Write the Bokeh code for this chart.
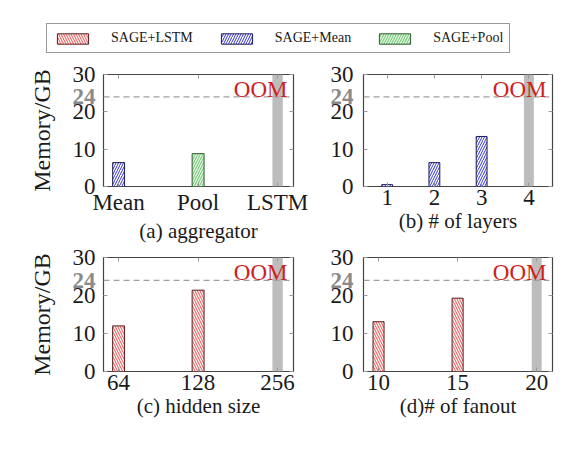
from bokeh.plotting import figure
from bokeh.models import (Range1d, FixedTicker, LinearAxis, Span, Label, Legend, LegendItem,
                          CustomJSTickFormatter)
from bokeh.layouts import column, row
from bokeh.embed import file_html
from bokeh.resources import INLINE

FONT = "Liberation Serif"

# ---- data (GB of GPU memory) ----
GPU_LIMIT = 24
Y_MAX = 30
y_ticks = [0, 10, 20, 30]

# (a) aggregator
agg_cats = ["Mean", "Pool", "LSTM"]
agg_mean_cat, agg_mean_mem = ["Mean"], [6.4]
agg_pool_cat, agg_pool_mem = ["Pool"], [8.8]
agg_oom_cat = ["LSTM"]

# (b) # of layers (SAGE+Mean)
layers = [1, 2, 3, 4]
layers_run = [1, 2, 3]
layers_mean = [0.5, 6.4, 13.4]
layers_oom = [4]

# (c) hidden size (SAGE+LSTM)
hidden_cats = ["64", "128", "256"]
hidden_run = ["64", "128"]
hidden_lstm = [12.0, 21.4]
hidden_oom = ["256"]

# (d) fanout (SAGE+LSTM)
fanout = [10, 15, 20]
fanout_run = [10, 15]
fanout_lstm = [13.1, 19.3]
fanout_oom = [20]

LSTM_STYLE = dict(fill_color="#fff4f4", hatch_pattern="left_diagonal_line",
                  hatch_color="#e05555", hatch_scale=5, hatch_weight=1,
                  line_color="#5a1c1c", line_width=1)
MEAN_STYLE = dict(fill_color="white", hatch_pattern="right_diagonal_line",
                  hatch_color="#3434c8", hatch_scale=5, hatch_weight=1,
                  line_color="#1c1c5a", line_width=1)
POOL_STYLE = dict(fill_color="#e2f7e2", hatch_pattern="right_diagonal_line",
                  hatch_color="#66c266", hatch_scale=5, hatch_weight=1,
                  line_color="#2e582e", line_width=1)
OOM_STYLE = dict(fill_color="#bdbdbd", line_color=None)


def make_panel(ticks, labels, xr, title, ylabel, w, h, bl, br, bt, bb, ystand=8):
    p = figure(width=w, height=h, x_range=Range1d(*xr), y_range=Range1d(0, Y_MAX),
               output_backend="svg", toolbar_location=None,
               min_border_left=bl, min_border_right=br,
               min_border_top=bt, min_border_bottom=bb)
    p.grid.visible = False
    p.outline_line_color = "#444444"
    p.outline_line_width = 1.2

    xax = p.below[0]
    yax = p.left[0]
    xax.ticker = FixedTicker(ticks=ticks)
    xax.major_label_overrides = {t: l for t, l in zip(ticks, labels)}
    yax.ticker = FixedTicker(ticks=y_ticks)
    xax.axis_label = title

    # grey bold memory limit label, pulled back over the main tick labels
    lim_ax = LinearAxis(ticker=FixedTicker(ticks=[GPU_LIMIT]))
    p.add_layout(lim_ax, "left")
    if ylabel:
        lim_ax.axis_label = ylabel

    # mirrored ticks on top / right, no labels
    blank = CustomJSTickFormatter(code="return ''")
    top = LinearAxis(ticker=FixedTicker(ticks=ticks), formatter=blank)
    right = LinearAxis(ticker=FixedTicker(ticks=y_ticks), formatter=blank)
    p.add_layout(top, "above")
    p.add_layout(right, "right")

    for ax in (xax, yax, lim_ax, top, right):
        ax.axis_line_color = None
        ax.major_tick_in = 4
        ax.major_tick_out = 0
        ax.major_tick_line_color = "#999999"
        ax.minor_tick_line_color = None
        ax.major_label_text_font = FONT
        ax.major_label_text_font_size = "23px"
        ax.major_label_text_color = "#1a1a1a"
        ax.axis_label_text_font = FONT
        ax.axis_label_text_font_style = "normal"
        ax.axis_label_text_color = "#1a1a1a"
    for ax in (top, right):
        ax.major_label_standoff = 0
    xax.major_label_standoff = 3
    xax.axis_label_standoff = 1
    xax.axis_label_text_font_size = "21px"
    yax.major_label_standoff = ystand
    lim_ax.major_tick_line_color = None
    lim_ax.major_label_text_font_style = "bold"
    lim_ax.major_label_text_color = "#8a8a8a"
    lim_ax.major_label_standoff = -26
    lim_ax.axis_label_standoff = 15
    lim_ax.axis_label_text_font_size = "24px"

    p.add_layout(Span(location=GPU_LIMIT, dimension="width", line_color="#a0a0a0",
                      line_dash="6 4", line_width=1.2))
    return p


def add_oom(p, xs, bw, xr):
    p.vbar(x=xs, top=[Y_MAX] * len(xs), width=bw, **OOM_STYLE)
    p.add_layout(Label(x=xr[1], y=26, x_offset=-6, text="OOM",
                       text_align="right", text_baseline="middle",
                       text_font=FONT, text_font_size="23px", text_color="#d01e1e"))


# (a)
xr_a = (-0.19, 2.2)
pa = make_panel(list(range(len(agg_cats))), agg_cats, xr_a, "(a) aggregator", "Memory/GB",
                308, 185, 103, 15, 14, 59)
pa.vbar(x=[agg_cats.index(c) for c in agg_mean_cat], top=agg_mean_mem, width=0.15, **MEAN_STYLE)
pa.vbar(x=[agg_cats.index(c) for c in agg_pool_cat], top=agg_pool_mem, width=0.15, **POOL_STYLE)
add_oom(pa, [agg_cats.index(c) for c in agg_oom_cat], 0.13, xr_a)

# (b)
xr_b = (0.5, 4.5)
pb = make_panel(layers, [str(v) for v in layers], xr_b, "(b) # of layers", None,
                264, 185, 55, 20, 14, 59, ystand=10)
pb.vbar(x=layers_run, top=layers_mean, width=0.23, **MEAN_STYLE)
add_oom(pb, layers_oom, 0.21, xr_b)

# (c)
xr_c = (-0.19, 2.2)
pc = make_panel(list(range(len(hidden_cats))), hidden_cats, xr_c, "(c) hidden size", "Memory/GB",
                308, 204, 103, 15, 12, 78)
pc.vbar(x=[hidden_cats.index(c) for c in hidden_run], top=hidden_lstm, width=0.15, **LSTM_STYLE)
add_oom(pc, [hidden_cats.index(c) for c in hidden_oom], 0.13, xr_c)

# (d)
xr_d = (9.05, 21.0)
pd_ = make_panel(fanout, [str(v) for v in fanout], xr_d, "(d)# of fanout", None,
                 264, 204, 55, 20, 12, 78, ystand=10)
pd_.vbar(x=fanout_run, top=fanout_lstm, width=0.7, **LSTM_STYLE)
add_oom(pd_, fanout_oom, 0.63, xr_d)

# shared legend strip
lg = figure(width=572, height=60, x_range=Range1d(0, 1), y_range=Range1d(0, 1),
            output_backend="svg", toolbar_location=None, min_border=0)
lg.axis.visible = False
lg.grid.visible = False
lg.outline_line_color = None
r_lstm = lg.vbar(x=fanout_run, top=fanout_lstm, width=0.7, visible=False, **LSTM_STYLE)
r_mean = lg.vbar(x=layers_run, top=layers_mean, width=0.2, visible=False, **MEAN_STYLE)
r_pool = lg.vbar(x=[0], top=agg_pool_mem, width=0.2, visible=False, **POOL_STYLE)
legend = Legend(items=[LegendItem(label="SAGE+LSTM", renderers=[r_lstm]),
                       LegendItem(label="SAGE+Mean", renderers=[r_mean]),
                       LegendItem(label="SAGE+Pool", renderers=[r_pool])],
                orientation="horizontal", location=(46, 7),
                inactive_fill_alpha=0, padding=6, margin=0, spacing=24,
                label_standoff=19, glyph_width=39, glyph_height=13, label_height=13,
                label_text_font=FONT, label_text_font_size="14px", label_text_color="#1a1a1a",
                border_line_color="#333333", border_line_width=1.2)
lg.add_layout(legend)

layout = column(lg, row(pa, pb), row(pc, pd_))
open("out.html", "w").write(file_html(layout, INLINE))
